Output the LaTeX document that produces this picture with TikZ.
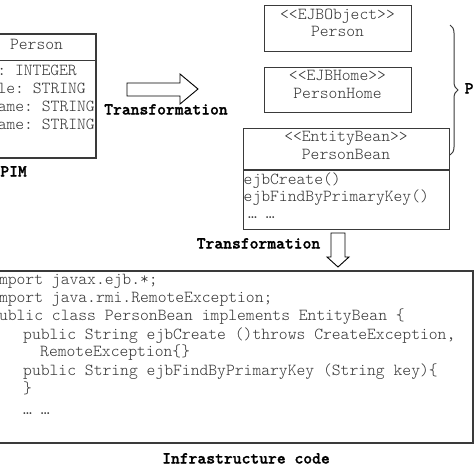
\documentclass[tikz,border=0pt]{standalone}
\usepackage{fontspec}
\setmonofont{lmmonolt10-regular.otf}[BoldFont=lmmonolt10-bold.otf, BoldFeatures={FakeBold=1.2}]
\usetikzlibrary{decorations.pathreplacing}
\definecolor{ink}{HTML}{333333}
\definecolor{edge}{HTML}{3A3A3A}
\tikzset{
  txt/.style={font=\ttfamily\fontsize{16.8}{18}\selectfont, text=ink, inner sep=0pt, text height=10pt, text depth=3pt},
  lbl/.style={font=\ttfamily\bfseries\fontsize{16.8}{18}\selectfont, text=black, inner sep=0pt, text height=10pt, text depth=3pt},
  box/.style={draw=edge, line width=1.4pt, inner sep=0pt},
  blockarrow/.style={draw=black, line width=0.9pt, fill=white, line join=miter},
}
\begin{document}
\begin{tikzpicture}[x=1pt,y=-1pt]
\useasboundingbox (0,0) rectangle (474,474);
\clip (0,0) rectangle (474,474);
\fill[white] (0,0) rectangle (474,474);

% PIM class box
\draw[box] (-30,34) rectangle (96,158);
\draw[box] (-30,60.5) -- (96,60.5);
\node[txt] (pname) at (36.5,46) {Person};
\node[txt, anchor=east] (a1) at (77,72) {id: INTEGER};
\node[txt, anchor=east] (a2) at (86,90) {title: STRING};
\node[txt, anchor=east] (a3) at (95,108) {firstName: STRING};
\node[txt, anchor=east] (a4) at (95,126) {lastName: STRING};
\node[lbl, anchor=east] (pim) at (27,173) {PIM};

% right block arrow
\draw[blockarrow] (127,83) -- (180,83) -- (180,74) -- (198,89) -- (180,104) -- (180,96) -- (127,96) -- cycle;
\node[lbl] (t1) at (166,111) {Transformation};

% PSM boxes
\node[box, minimum width=147pt, minimum height=46pt, anchor=north west] (obj) at (264,5) {};
\node[txt] (objs) at (337.5,16) {<<EJBObject>>};
\node[txt] (objn) at (337.5,33) {Person};

\node[box, minimum width=147pt, minimum height=45pt, anchor=north west] (home) at (264,67) {};
\node[txt] (homes) at (337.5,77) {<<EJBHome>>};
\node[txt] (homen) at (337.5,95) {PersonHome};

\node[box, minimum width=206pt, minimum height=101pt, anchor=north west] (bean) at (243,128) {};
\draw[box] (bean.west |- 0,170) -- (bean.east |- 0,170);
\node[txt] (beans) at (346,138) {<<EntityBean>>};
\node[txt] (beann) at (346,156) {PersonBean};
\node[txt, anchor=west] (m1) at (243.5,181) {ejbCreate()};
\node[txt, anchor=west] (m2) at (243.5,198) {ejbFindByPrimaryKey()};
\node[txt, anchor=west] (m3) at (248,215) {… …};

% brace
\coordinate (bt) at (450,25);
\coordinate (bb) at (450,155);
\draw[edge, line width=1pt, decorate, decoration={brace, amplitude=8pt}] (bt) -- (bb);
\node[lbl, anchor=west] (psm) at (464.5,90) {PSM};

% down block arrow
\draw[blockarrow] (331,233) -- (345,233) -- (345,257) -- (349,257) -- (338,267) -- (327,257) -- (331,257) -- cycle;
\node[lbl] (t2) at (258.5,245) {Transformation};

% code box
\draw[box] (-10,271) rectangle (473,443);
\node[txt, anchor=west] (c1) at (-10,281) {import javax.ejb.*;};
\node[txt, anchor=west] (c2) at (-10,299) {import java.rmi.RemoteException;};
\node[txt, anchor=west] (c3) at (-10,317) {public class PersonBean implements EntityBean \{};
\node[txt, anchor=west] (c4) at (23,336) {public String ejbCreate ()throws CreateException,};
\node[txt, anchor=west] (c5) at (40,353) {RemoteException\{\}};
\node[txt, anchor=west] (c6) at (23,372) {public String ejbFindByPrimaryKey (String key)\{};
\node[txt, anchor=west] (c7) at (23,390) {\}};
\node[txt, anchor=west] (c8) at (23,411) {… …};

\node[lbl] (infra) at (246,460) {Infrastructure code};
\end{tikzpicture}
\end{document}
